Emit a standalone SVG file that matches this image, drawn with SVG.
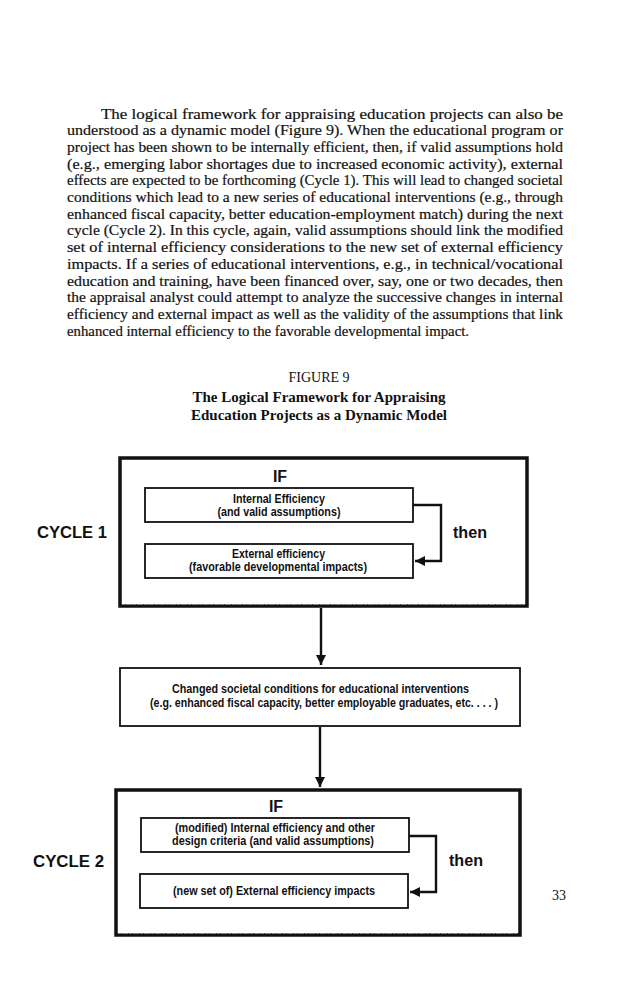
<svg xmlns="http://www.w3.org/2000/svg" width="638" height="981" viewBox="0 0 638 981">
<style>
  .body { font-family: "Liberation Serif", "Times New Roman", serif; font-size: 15px; fill: #111; stroke: #111; stroke-width: 0.2; }
  .title { font-family: "Liberation Serif", "Times New Roman", serif; font-size: 15px; font-weight: bold; fill: #111; text-anchor: middle; }
  .fig { font-family: "Liberation Serif", "Times New Roman", serif; font-size: 14px; fill: #111; text-anchor: middle; }
  .box { font-family: "Liberation Sans", Arial, sans-serif; font-size: 12.5px; font-weight: bold; fill: #111; text-anchor: middle; }
  .lbl { font-family: "Liberation Sans", Arial, sans-serif; font-size: 16px; font-weight: bold; fill: #111; }
  .outer { fill: #fff; stroke: #111; stroke-width: 3.5; }
  .inner { fill: #fff; stroke: #111; stroke-width: 1.8; }
  .conn { fill: none; stroke: #111; stroke-width: 2.4; }
  .page { font-family: "Liberation Serif", "Times New Roman", serif; font-size: 14px; fill: #111; }
</style>
<defs>
  <marker id="ah" markerUnits="userSpaceOnUse" markerWidth="12" markerHeight="10" refX="10" refY="5" orient="auto">
    <path d="M0,0 L10,5 L0,10 Z" fill="#111"/>
  </marker>
</defs>
<rect width="638" height="981" fill="#fff"/>

<g id="paragraph">
  <text class="body" x="101" y="118.5" textLength="462" lengthAdjust="spacingAndGlyphs">The logical framework for appraising education projects can also be</text>
  <text class="body" x="67" y="135.2" textLength="496" lengthAdjust="spacingAndGlyphs">understood as a dynamic model (Figure 9). When the educational program or</text>
  <text class="body" x="67" y="151.9" textLength="496" lengthAdjust="spacingAndGlyphs">project has been shown to be internally efficient, then, if valid assumptions hold</text>
  <text class="body" x="67" y="168.6" textLength="496" lengthAdjust="spacingAndGlyphs">(e.g., emerging labor shortages due to increased economic activity), external</text>
  <text class="body" x="67" y="185.3" textLength="496" lengthAdjust="spacingAndGlyphs">effects are expected to be forthcoming (Cycle 1). This will lead to changed societal</text>
  <text class="body" x="67" y="202" textLength="496" lengthAdjust="spacingAndGlyphs">conditions which lead to a new series of educational interventions (e.g., through</text>
  <text class="body" x="67" y="218.7" textLength="496" lengthAdjust="spacingAndGlyphs">enhanced fiscal capacity, better education-employment match) during the next</text>
  <text class="body" x="67" y="235.4" textLength="496" lengthAdjust="spacingAndGlyphs">cycle (Cycle 2). In this cycle, again, valid assumptions should link the modified</text>
  <text class="body" x="67" y="252.1" textLength="496" lengthAdjust="spacingAndGlyphs">set of internal efficiency considerations to the new set of external efficiency</text>
  <text class="body" x="67" y="268.8" textLength="496" lengthAdjust="spacingAndGlyphs">impacts. If a series of educational interventions, e.g., in technical/vocational</text>
  <text class="body" x="67" y="285.5" textLength="496" lengthAdjust="spacingAndGlyphs">education and training, have been financed over, say, one or two decades, then</text>
  <text class="body" x="67" y="302.2" textLength="496" lengthAdjust="spacingAndGlyphs">the appraisal analyst could attempt to analyze the successive changes in internal</text>
  <text class="body" x="67" y="318.9" textLength="496" lengthAdjust="spacingAndGlyphs">efficiency and external impact as well as the validity of the assumptions that link</text>
  <text class="body" x="67" y="335.6" textLength="402" lengthAdjust="spacingAndGlyphs">enhanced internal efficiency to the favorable developmental impact.</text>
</g>

<g id="figure-title">
  <text class="fig" x="319" y="382">FIGURE 9</text>
  <text class="title" x="319" y="402">The Logical Framework for Appraising</text>
  <text class="title" x="319" y="420">Education Projects as a Dynamic Model</text>
</g>

<g id="cycle1">
  <rect class="outer" x="120" y="458" width="407" height="148"/>
  <line x1="122" y1="604.5" x2="525" y2="604.5" stroke="#888" stroke-width="1.2" stroke-dasharray="3 1 6 1"/>
  <text class="lbl" x="37" y="538" textLength="70" lengthAdjust="spacingAndGlyphs">CYCLE 1</text>
  <text class="lbl" x="280" y="482" text-anchor="middle">IF</text>
  <text class="lbl" x="453" y="538" textLength="34" lengthAdjust="spacingAndGlyphs">then</text>
  <g id="c1-internal">
    <rect class="inner" x="145" y="488" width="268" height="34"/>
    <text class="box" x="279" y="503" textLength="92" lengthAdjust="spacingAndGlyphs">Internal Efficiency</text>
    <text class="box" x="279" y="516" textLength="123" lengthAdjust="spacingAndGlyphs">(and valid assumptions)</text>
  </g>
  <g id="c1-external">
    <rect class="inner" x="145" y="544" width="268" height="34"/>
    <text class="box" x="278.5" y="557.5" textLength="93" lengthAdjust="spacingAndGlyphs">External efficiency</text>
    <text class="box" x="278" y="571" textLength="178" lengthAdjust="spacingAndGlyphs">(favorable developmental impacts)</text>
  </g>
</g>

<g id="changed-conditions">
  <rect class="inner" x="120" y="668" width="400" height="58" stroke-width="2"/>
  <text class="box" x="320.5" y="693" textLength="297" lengthAdjust="spacingAndGlyphs">Changed societal conditions for educational interventions</text>
  <text class="box" x="324" y="706.5" textLength="348" lengthAdjust="spacingAndGlyphs">(e.g. enhanced fiscal capacity, better employable graduates, etc. . . . )</text>
</g>

<g id="cycle2">
  <rect class="outer" x="116" y="790" width="404" height="145"/>
  <line x1="118" y1="933.5" x2="518" y2="933.5" stroke="#888" stroke-width="1.2" stroke-dasharray="3 1 6 1"/>
  <text class="lbl" x="33" y="867" textLength="71" lengthAdjust="spacingAndGlyphs">CYCLE 2</text>
  <text class="lbl" x="276" y="812" text-anchor="middle">IF</text>
  <text class="lbl" x="449" y="866" textLength="34" lengthAdjust="spacingAndGlyphs">then</text>
  <g id="c2-internal">
    <rect class="inner" x="141" y="818" width="268" height="34"/>
    <text class="box" x="275" y="832" textLength="200" lengthAdjust="spacingAndGlyphs">(modified) Internal efficiency and other</text>
    <text class="box" x="273" y="845" textLength="202" lengthAdjust="spacingAndGlyphs">design criteria (and valid assumptions)</text>
  </g>
  <g id="c2-external">
    <rect class="inner" x="140" y="874" width="268" height="34"/>
    <text class="box" x="274" y="895" textLength="202" lengthAdjust="spacingAndGlyphs">(new set of) External efficiency impacts</text>
  </g>
</g>

<g id="connectors">
  <path class="conn" d="M413,505 H441 V561 H415" marker-end="url(#ah)"/>
  <path class="conn" d="M409,836 H436 V892 H410" marker-end="url(#ah)"/>
  <path class="conn" d="M321,608 V665" marker-end="url(#ah)"/>
  <path class="conn" d="M320,727 V787" marker-end="url(#ah)"/>
</g>

<text class="page" x="552" y="900">33</text>
</svg>
